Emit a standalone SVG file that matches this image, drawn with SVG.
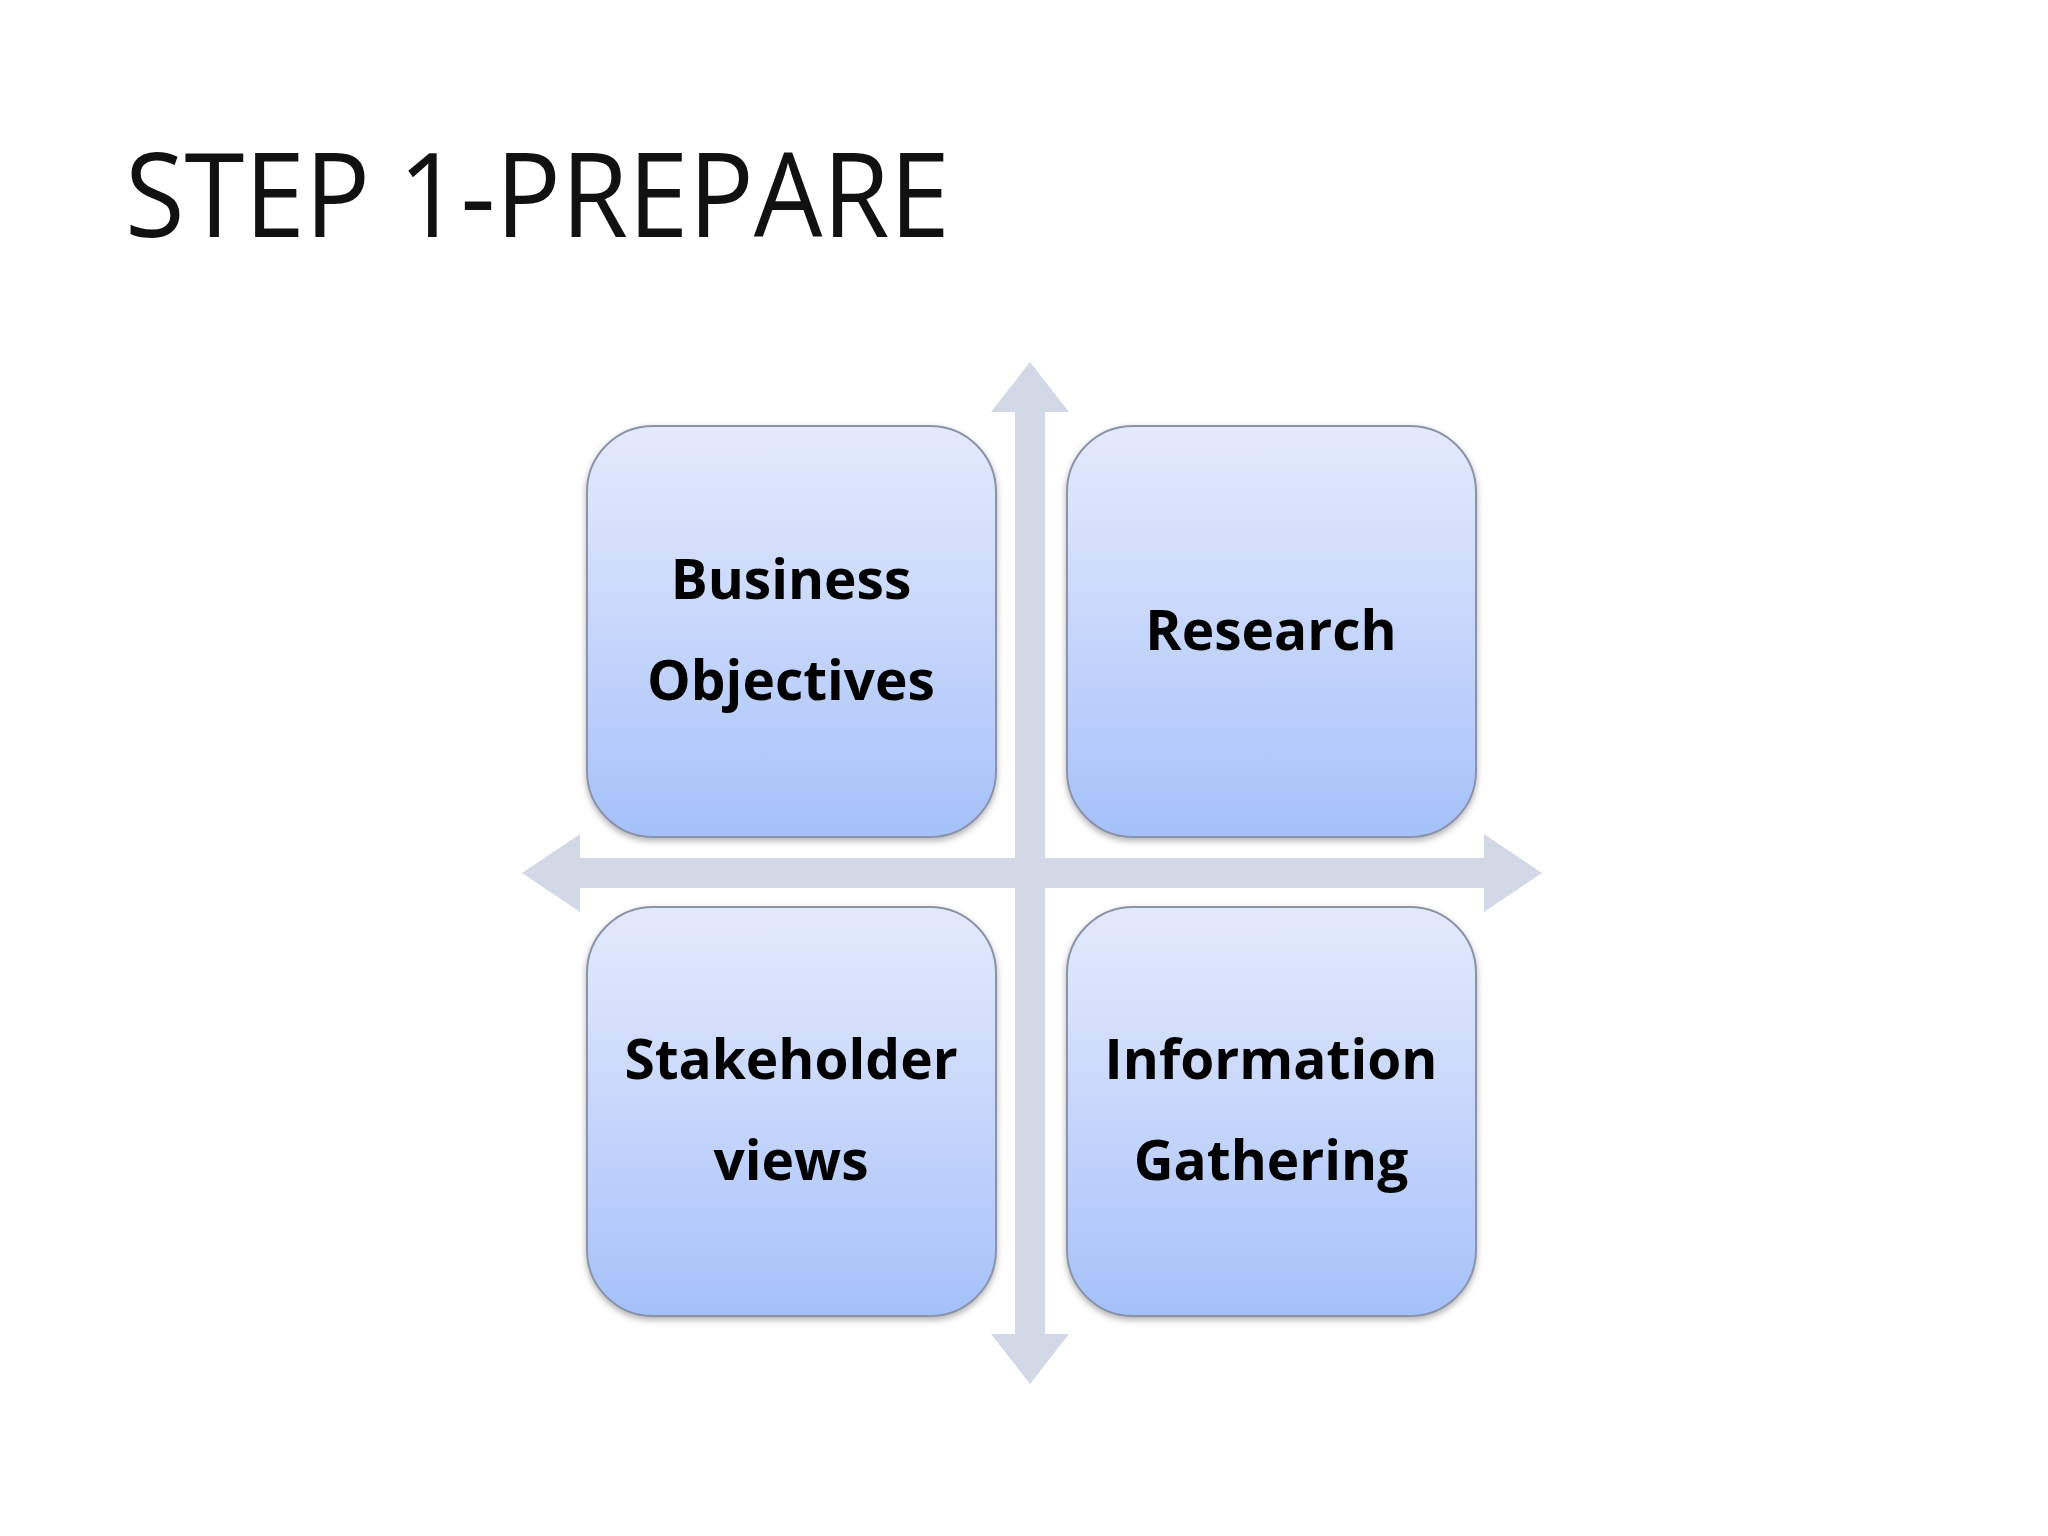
<svg xmlns="http://www.w3.org/2000/svg" width="2048" height="1536" viewBox="0 0 2048 1536">
<defs>
<linearGradient id="g" x1="0" y1="0" x2="0" y2="1"><stop offset="0" stop-color="#e4eafc"/><stop offset="0.6" stop-color="#c0d2fb"/><stop offset="1" stop-color="#a5c1fa"/></linearGradient>
<filter id="sh" x="-10%" y="-10%" width="130%" height="130%"><feDropShadow dx="0" dy="3" stdDeviation="3" flood-color="#000" flood-opacity="0.3"/></filter>
</defs>
<style>
.box{fill:url(#g);stroke:#8a93a8;stroke-width:2;filter:url(#sh)}
.t{font-family:"Open Sans","Liberation Sans",sans-serif;font-weight:bold;font-size:55px;fill:#000;text-anchor:middle}
.ax{fill:#d2d8e5}
</style>
<rect width="2048" height="1536" fill="#fff"/>
<text x="125" y="237" font-family="Open Sans, Liberation Sans, sans-serif" font-size="118" fill="#111" textLength="825" lengthAdjust="spacingAndGlyphs">STEP 1-PREPARE</text>
<g id="connectors">
<polygon class="ax" points="1030,362 1069,412 1045,412 1045,858 1484,858 1484,834 1542,873 1484,912 1484,888 1045,888 1045,1334 1069,1334 1030,1384 991,1334 1015,1334 1015,888 580,888 580,912 522,873 580,834 580,858 1015,858 1015,412 991,412"/>
</g>
<g id="n1"><rect class="box" x="587" y="426" width="409" height="411" rx="66"/><text class="t" x="791" y="599">Business</text><text class="t" x="791" y="700">Objectives</text></g>
<g id="n2"><rect class="box" x="1067" y="426" width="409" height="411" rx="66"/><text class="t" x="1271" y="650">Research</text></g>
<g id="n3"><rect class="box" x="587" y="907" width="409" height="409" rx="66"/><text class="t" x="791" y="1079">Stakeholder</text><text class="t" x="791" y="1180">views</text></g>
<g id="n4"><rect class="box" x="1067" y="907" width="409" height="409" rx="66"/><text class="t" x="1271" y="1079">Information</text><text class="t" x="1271" y="1180">Gathering</text></g>
</svg>
